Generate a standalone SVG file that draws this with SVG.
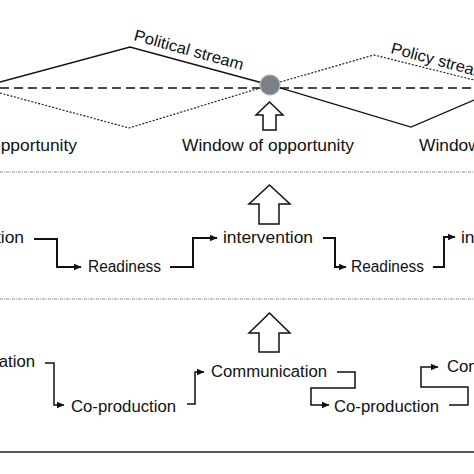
<svg xmlns="http://www.w3.org/2000/svg" width="474" height="474" viewBox="0 0 474 474">
<style>
text{font-family:"Liberation Sans",Arial,sans-serif;font-size:16px;fill:#111}
.solid{fill:none;stroke:#111;stroke-width:1.3}
.dash{fill:none;stroke:#111;stroke-width:1.6;stroke-dasharray:9 5}
.dot{fill:none;stroke:#111;stroke-width:1.1;stroke-dasharray:2 1.6}
.sep{fill:none;stroke:#8c8c8c;stroke-width:1;stroke-dasharray:3 1 1 1}
.big{fill:#fff;stroke:#111;stroke-width:1.5;stroke-linejoin:miter}
.c1{fill:none;stroke:#111;stroke-width:2}
.c2{fill:none;stroke:#111;stroke-width:1.5}
</style>
<defs>
<marker id="ah" markerUnits="userSpaceOnUse" markerWidth="8" markerHeight="8" viewBox="0 0 8 8" refX="7" refY="4" orient="auto">
<path d="M0,0.8 L7.5,4 L0,7.2 Z" fill="#111"/>
</marker>
</defs>
<g id="streams">
<polyline class="solid" points="0,82 130,47 270,85 411,127 474,100"/>
<line class="dash" x1="0" y1="88" x2="474" y2="88"/>
<polyline class="dot" points="0,93 129,128 270,85 374,55 474,80"/>
<text transform="translate(133,40) rotate(15.5)" textLength="113" lengthAdjust="spacingAndGlyphs">Political stream</text>
<text transform="translate(390,53) rotate(15)" textLength="99" lengthAdjust="spacingAndGlyphs">Policy stream</text>
</g>
<g id="window-node">
<circle cx="270" cy="85" r="10" fill="#7c8188" stroke="#a8b3be" stroke-width="1.2"/>
</g>
<g id="window-labels">
<text x="-95" y="151" textLength="172" lengthAdjust="spacingAndGlyphs">Window of opportunity</text>
<text x="182" y="151" textLength="172" lengthAdjust="spacingAndGlyphs">Window of opportunity</text>
<text x="419" y="151" textLength="172" lengthAdjust="spacingAndGlyphs">Window of opportunity</text>
</g>
<g id="separators">
<line class="sep" x1="0" y1="172" x2="474" y2="172"/>
<line class="sep" x1="0" y1="299" x2="474" y2="299"/>
<line x1="0" y1="452" x2="474" y2="452" stroke="#5a5a5a" stroke-width="1.8"/>
</g>
<g id="big-arrows">
<polygon class="big" points="269.5,102 283,115 276,115 276,130 263,130 263,115 256,115"/>
<polygon class="big" points="269.5,185 290,204 279,204 279,224 259,224 259,204 249,204"/>
<polygon class="big" points="269.5,313 290,333 279,333 279,352 259,352 259,333 249,333"/>
</g>
<g id="row-intervention">
<text x="-66" y="243" textLength="90" lengthAdjust="spacingAndGlyphs">intervention</text>
<text x="88" y="272" textLength="73" lengthAdjust="spacingAndGlyphs">Readiness</text>
<text x="223" y="243" textLength="90" lengthAdjust="spacingAndGlyphs">intervention</text>
<text x="351" y="272" textLength="73" lengthAdjust="spacingAndGlyphs">Readiness</text>
<text x="461" y="243" textLength="90" lengthAdjust="spacingAndGlyphs">intervention</text>
</g>
<g id="row-communication">
<text x="-81" y="367" textLength="116" lengthAdjust="spacingAndGlyphs">Communication</text>
<text x="71" y="412" textLength="105" lengthAdjust="spacingAndGlyphs">Co-production</text>
<text x="211" y="377" textLength="116" lengthAdjust="spacingAndGlyphs">Communication</text>
<text x="334" y="412" textLength="105" lengthAdjust="spacingAndGlyphs">Co-production</text>
<text x="447" y="372" textLength="116" lengthAdjust="spacingAndGlyphs">Communication</text>
</g>
<g id="connectors">
<path class="c1" d="M34 239 H57 V267 H81" marker-end="url(#ah)"/>
<path class="c1" d="M170 267 H193 V238 H217" marker-end="url(#ah)"/>
<path class="c1" d="M323 238 H335 V267 H346" marker-end="url(#ah)"/>
<path class="c1" d="M433 267 H444 V237 H455" marker-end="url(#ah)"/>
<path class="c2" d="M45 363 H54 V405 H64" marker-end="url(#ah)"/>
<path class="c2" d="M187 404 H195 V372 H204" marker-end="url(#ah)"/>
<path class="c2" d="M337 372 H355 V388 H311 V405 H329" marker-end="url(#ah)"/>
<path class="c2" d="M449 405 H468 V387 H421 V367 H438" marker-end="url(#ah)"/>
</g>
</svg>
